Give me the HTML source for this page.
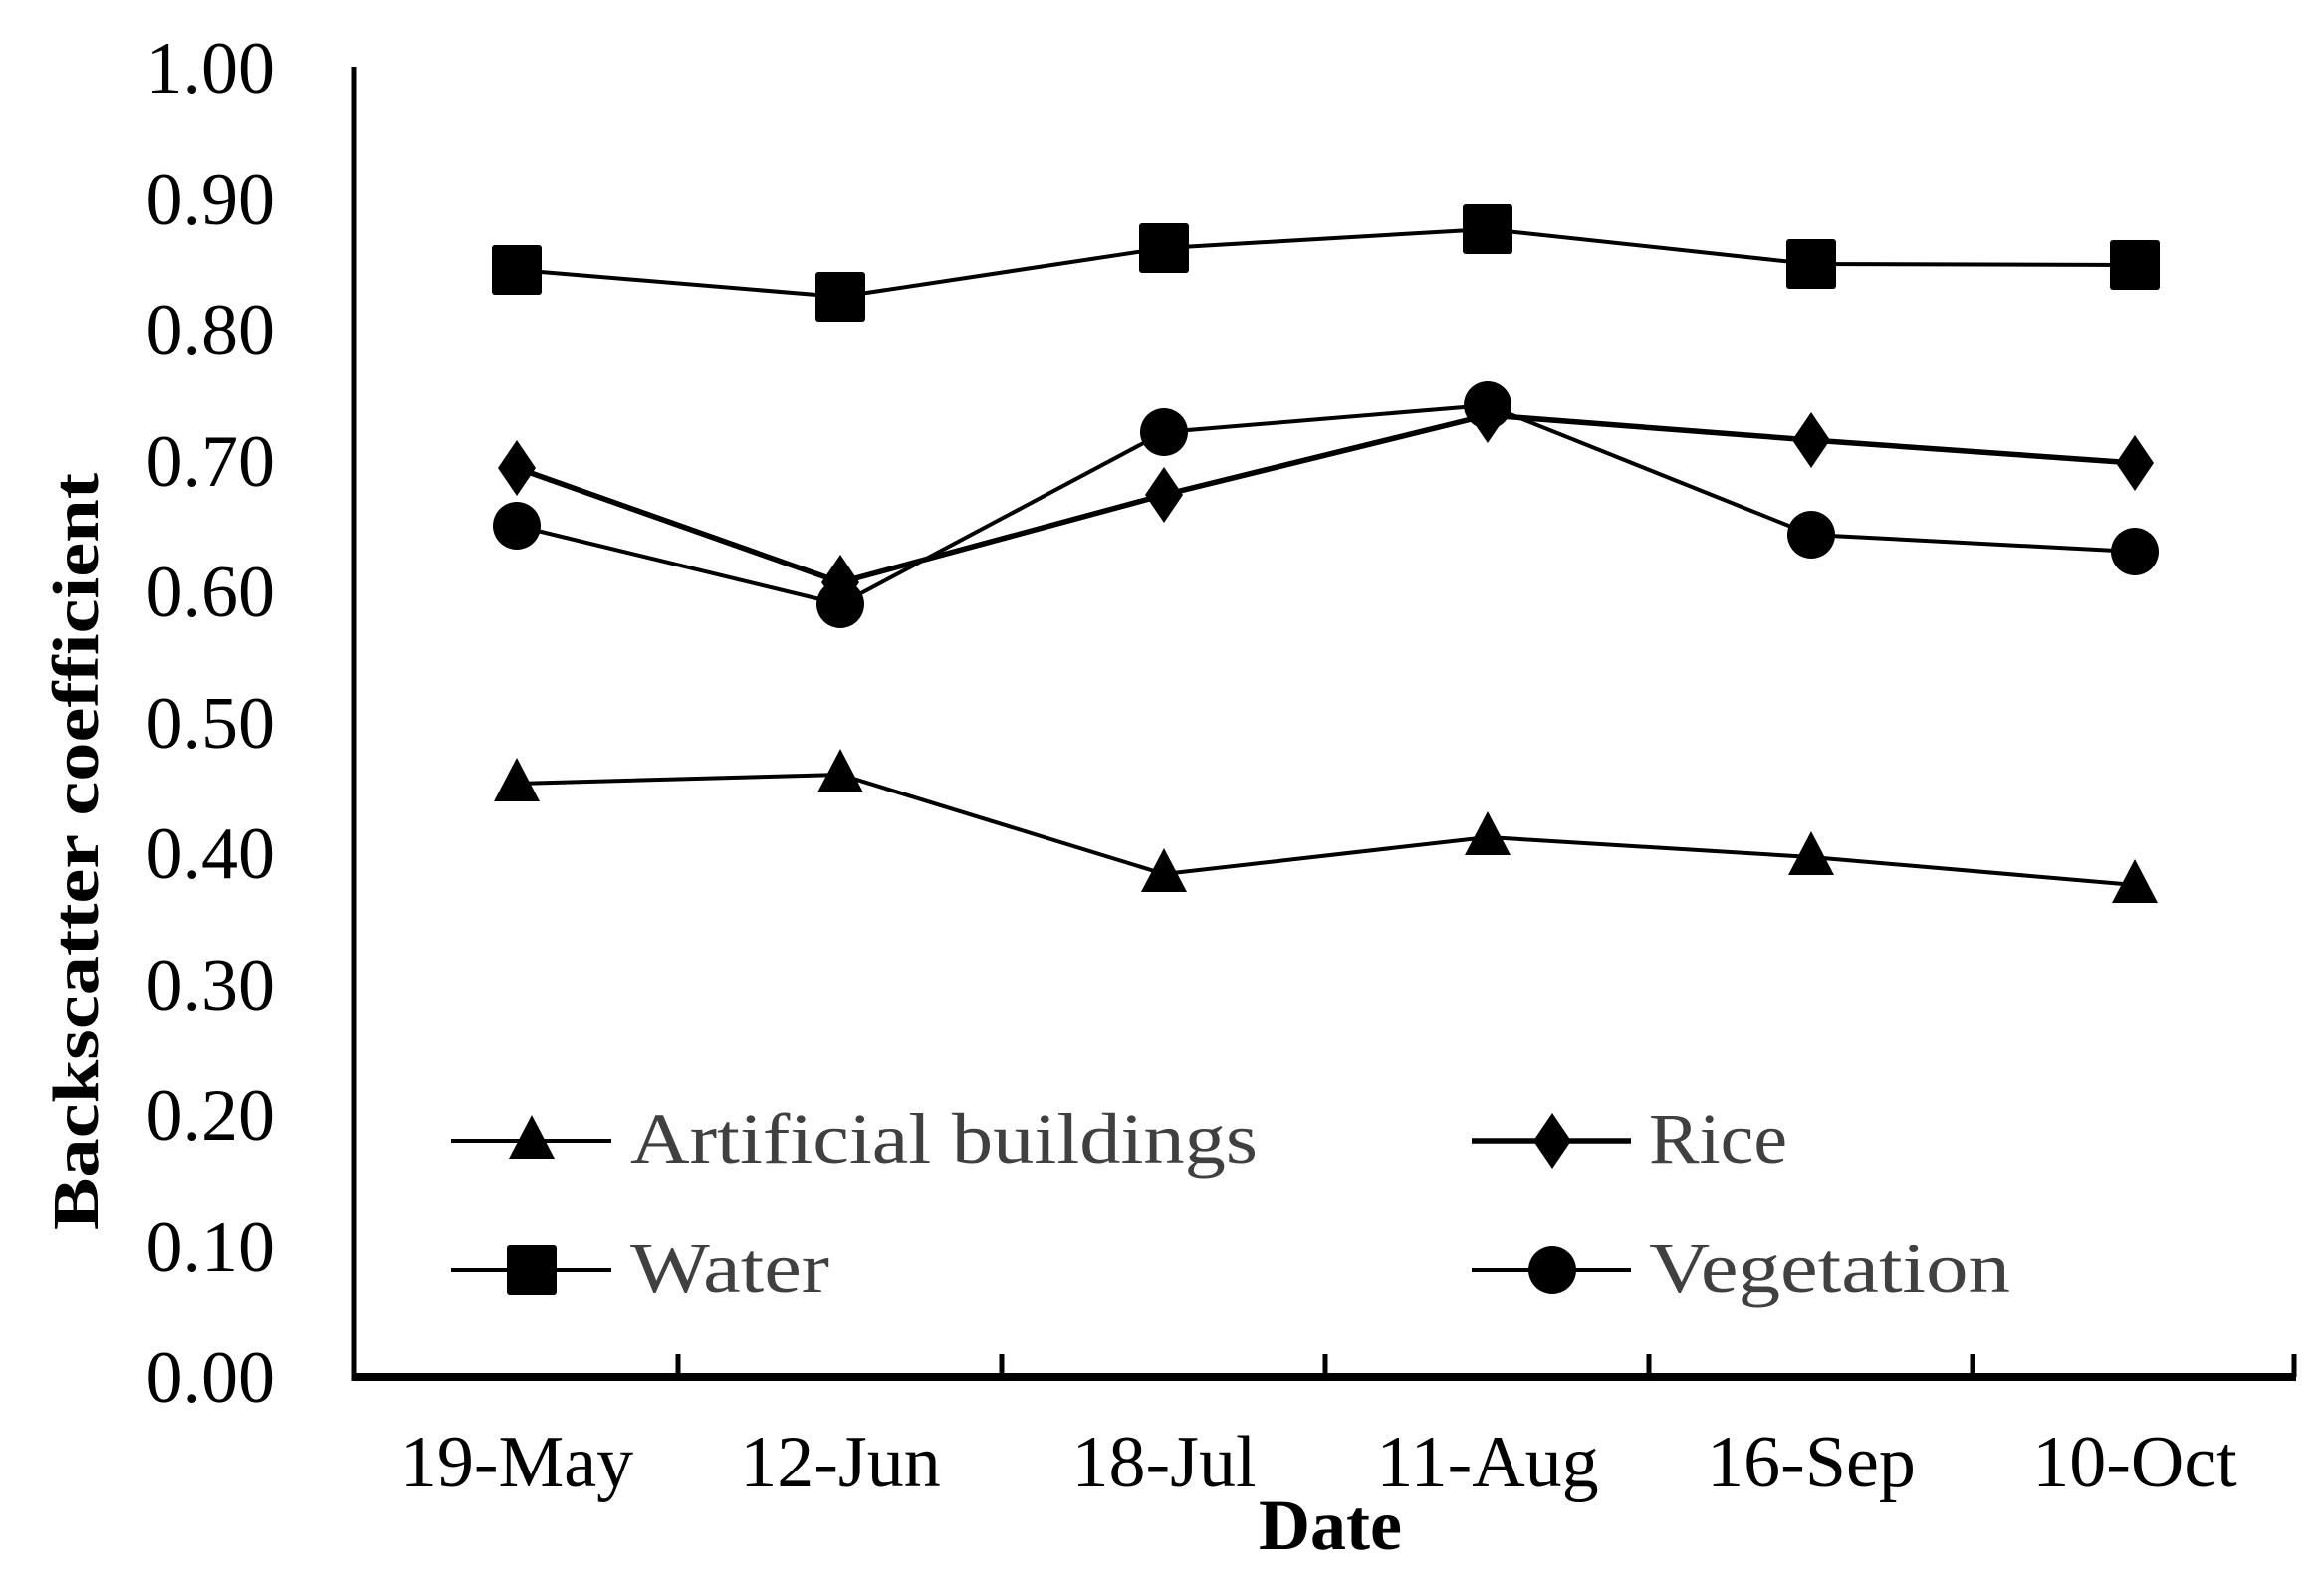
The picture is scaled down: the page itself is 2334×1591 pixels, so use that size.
<!DOCTYPE html>
<html><head><meta charset="utf-8"><style>html,body{margin:0;padding:0;background:#fff}svg{display:block}</style></head>
<body>
<svg width="2334" height="1591" viewBox="0 0 2334 1591" xmlns="http://www.w3.org/2000/svg">
<rect width="2334" height="1591" fill="#fff"/>
<g font-family="Liberation Serif, serif" font-size="74" fill="#000" text-anchor="end">
<text x="276" y="93">1.00</text>
<text x="276" y="225">0.90</text>
<text x="276" y="356">0.80</text>
<text x="276" y="488">0.70</text>
<text x="276" y="619">0.60</text>
<text x="276" y="751">0.50</text>
<text x="276" y="882">0.40</text>
<text x="276" y="1014">0.30</text>
<text x="276" y="1145">0.20</text>
<text x="276" y="1277">0.10</text>
<text x="276" y="1408">0.00</text>
</g>
<line x1="356" y1="67" x2="356" y2="1387" stroke="#000" stroke-width="5"/>
<line x1="354" y1="1383" x2="2306" y2="1383" stroke="#000" stroke-width="8"/>
<g stroke="#000" stroke-width="5">
<line x1="681" y1="1360" x2="681" y2="1383"/>
<line x1="1006" y1="1360" x2="1006" y2="1383"/>
<line x1="1331" y1="1360" x2="1331" y2="1383"/>
<line x1="1656" y1="1360" x2="1656" y2="1383"/>
<line x1="1981" y1="1360" x2="1981" y2="1383"/>
<line x1="2304" y1="1360" x2="2304" y2="1383"/>
</g>
<g font-family="Liberation Serif, serif" font-size="74" fill="#000" text-anchor="middle">
<text x="519" y="1493">19-May</text>
<text x="844" y="1493">12-Jun</text>
<text x="1169" y="1493">18-Jul</text>
<text x="1494" y="1493">11-Aug</text>
<text x="1819" y="1493">16-Sep</text>
<text x="2144" y="1493">10-Oct</text>
<text x="1336" y="1556" font-weight="bold" font-size="72">Date</text>
</g>
<text transform="translate(98,855) rotate(-90)" font-family="Liberation Serif, serif" font-weight="bold" font-size="66" text-anchor="middle" textLength="760" lengthAdjust="spacingAndGlyphs">Backscatter coefficient</text>
<defs>
<path id="tri" d="M0,-26 L23,18 L-23,18 Z"/>
<rect id="sq" x="-25" y="-25" width="50" height="50" rx="3"/>
<path id="dia" d="M0,-28 L19,0 L0,28 L-19,0 Z"/>
<circle id="cir" r="24"/>
</defs>
<polyline fill="none" stroke="#000" stroke-width="4" points="519,271 844,298 1169,249 1494,230 1819,265 2144,266"/>
<polyline fill="none" stroke="#000" stroke-width="5.5" points="519,470 844,585 1169,497 1494,417 1819,442 2144,465"/>
<polyline fill="none" stroke="#000" stroke-width="4" points="519,528 844,607 1169,434 1494,407 1819,537 2144,554"/>
<polyline fill="none" stroke="#000" stroke-width="4" points="519,787 844,778 1169,878 1494,841 1819,861 2144,889"/>
<g fill="#000">
<use href="#sq" x="519" y="271"/><use href="#sq" x="844" y="298"/><use href="#sq" x="1169" y="249"/><use href="#sq" x="1494" y="230"/><use href="#sq" x="1819" y="265"/><use href="#sq" x="2144" y="266"/>
<use href="#dia" x="519" y="470"/><use href="#dia" x="844" y="585"/><use href="#dia" x="1169" y="497"/><use href="#dia" x="1494" y="417"/><use href="#dia" x="1819" y="442"/><use href="#dia" x="2144" y="465"/>
<use href="#cir" x="519" y="528"/><use href="#cir" x="844" y="607"/><use href="#cir" x="1169" y="434"/><use href="#cir" x="1494" y="407"/><use href="#cir" x="1819" y="537"/><use href="#cir" x="2144" y="554"/>
<use href="#tri" x="519" y="787"/><use href="#tri" x="844" y="778"/><use href="#tri" x="1169" y="878"/><use href="#tri" x="1494" y="841"/><use href="#tri" x="1819" y="861"/><use href="#tri" x="2144" y="889"/>
</g>
<g stroke="#000" stroke-width="4">
<line x1="453" y1="1146" x2="614" y2="1146"/>
<line x1="453" y1="1276" x2="614" y2="1276"/>
<line x1="1478" y1="1146" x2="1638" y2="1146" stroke-width="5.5"/>
<line x1="1478" y1="1276" x2="1638" y2="1276"/>
</g>
<g fill="#000">
<use href="#tri" x="534" y="1146"/>
<use href="#sq" x="534" y="1276"/>
<use href="#dia" x="1559" y="1146"/>
<use href="#cir" x="1559" y="1276"/>
</g>
<g font-family="Liberation Serif, serif" font-size="72" fill="#404040" lengthAdjust="spacingAndGlyphs">
<text x="633" y="1168" textLength="630" lengthAdjust="spacingAndGlyphs">Artificial buildings</text>
<text x="633" y="1298" textLength="200" lengthAdjust="spacingAndGlyphs">Water</text>
<text x="1656" y="1168" textLength="139" lengthAdjust="spacingAndGlyphs">Rice</text>
<text x="1656" y="1298" textLength="363" lengthAdjust="spacingAndGlyphs">Vegetation</text>
</g>
</svg>
</body></html>
